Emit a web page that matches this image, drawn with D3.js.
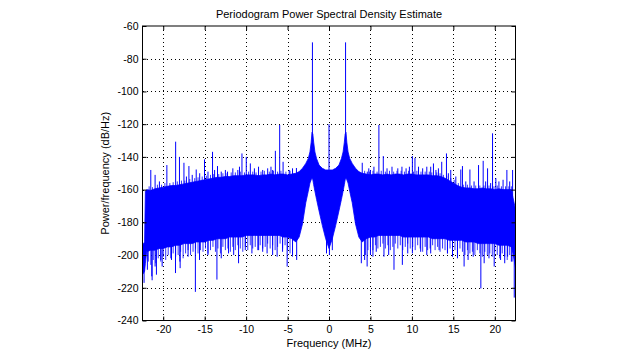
<!DOCTYPE html>
<html><head><meta charset="utf-8">
<script src="https://cdn.jsdelivr.net/npm/d3@7/dist/d3.min.js"></script>
<style>
body{margin:0;background:#fff}
svg{display:block}
text{font-family:"Liberation Sans",Arial,Helvetica,sans-serif;fill:#000}
</style>
</head><body>
<svg id="chart" width="640" height="360"></svg>
<script>
// ---------- data ----------
const titleText = "Periodogram Power Spectral Density Estimate";
const xLabelText = "Frequency (MHz)";
const yLabelText = "Power/frequency (dB/Hz)";
const xTicks = [-20, -15, -10, -5, 0, 5, 10, 15, 20];
const yTicks = [-240, -220, -200, -180, -160, -140, -120, -100, -80, -60];

// envelope of the dense noise band (MHz, dB/Hz)
const envFreq = [-22.5, -22.25, -22.15, -22.0, -21.5, -21.0, -20.5, -20.0, -19.5, -19.0, -18.5, -18.0, -17.5, -17.0, -16.5, -16.0, -15.5, -15.0, -14.5, -14.0, -13.5, -13.0, -12.5, -12.0, -11.5, -11.0, -10.5, -10.0, -9.5, -9.0, -8.5, -8.0, -7.5, -7.0, -6.5, -6.0, -5.5, -5.0, -4.5, -4.0, -3.6, -3.2, -2.8, -2.5, -2.3, -2.15, -2.05, -1.95, -1.85, -1.7, -1.5, -1.2, -0.8, -0.4, 0,
  0.4, 0.8, 1.2, 1.5, 1.7, 1.85, 1.95, 2.05, 2.15, 2.3, 2.5, 2.8, 3.2, 3.6, 4.0, 4.5, 5.0, 5.5, 6.0, 6.5, 7.0, 7.5, 8.0, 8.5, 9.0, 9.5, 10.0, 10.5, 11.0, 11.5, 12.0, 12.5, 13.0, 13.5, 14.0, 14.5, 15.0, 15.5, 16.0, 16.5, 17.0, 17.5, 18.0, 18.5, 19.0, 19.5, 20.0, 20.5, 21.0, 21.5, 22.0, 22.2, 22.5];
const envTop = [-194, -192, -161, -160, -160.5, -159.5, -159, -158.5, -158, -157.5, -157.5, -157, -156.5, -156, -155.5, -155, -154.5, -154, -153.5, -153, -152.5, -152.5, -152, -152, -151.5, -151.5, -151.5, -151, -151, -151, -151.5, -151, -151, -150.5, -151, -150.5, -150.5, -151, -150.5, -150, -149, -147, -144, -141, -137, -131, -125, -126, -131, -137, -141, -145, -147, -148, -148,
  -148, -147, -145, -141, -137, -131, -126, -125, -131, -137, -141, -144, -147, -149, -150, -150.5, -151, -150.5, -150.5, -151, -150.5, -151, -150.5, -150.5, -151, -150.5, -150.5, -151, -151, -151, -151, -151.5, -151.5, -152, -153, -154.5, -156, -157.5, -158.5, -159, -159, -159.5, -159.5, -159, -159.5, -159.5, -160, -159.5, -160, -160, -160, -165, -172];
const envBottom = [-212, -210, -205, -198, -197, -197, -196, -196, -195, -195, -194, -194, -193, -193, -193, -192, -192, -192, -191, -191, -190, -190, -190, -189, -189, -189, -189, -188, -188, -188, -188, -188, -188, -188, -188, -188, -189, -189, -190, -192, -189, -181, -168, -161, -156, -154, -153, -154, -157, -161, -166, -173, -182, -190, -196,
  -190, -182, -173, -166, -161, -157, -154, -153, -154, -156, -161, -168, -181, -189, -192, -190, -189, -189, -188, -188, -188, -188, -188, -188, -189, -189, -189, -189, -189, -189, -189, -190, -190, -190, -190, -191, -191, -191, -191, -192, -192, -192, -193, -193, -193, -193, -193, -194, -194, -194, -195, -199, -208];

// tall spikes rising above the band (MHz, dB/Hz)
const upFreq = [-2.0, 2.0, 0.0,
  -21.5, -20.98, -20.46, -19.56, -18.5, -18.04, -17.5, -16.9, -16.02, -15.02, -14.05, -13.45, -12.24, -10.5, -9.98, -9.49, -6.47, -5.95, -5.54, -3.93,
  4.01, 4.62, 5.42, 6.02, 6.55, 10.06, 10.37, 12.27, 12.6, 13.6, 14.17, 14.69, 15.9, 16.1, 17.0, 18.04, 18.6, 19.13, 19.73, 20.13, 21.46, 22.15,
  -17.2, -16.5, -15.6, -14.6, -13.8, -13.0, -12.5, -11.6, -11.0, -10.8, -9.0, -8.5, -8.0, -7.4, -7.0, -6.8, -4.8, -4.4,
  4.8, 5.0, 7.0, 7.6, 8.3, 8.8, 9.3, 9.7, 10.8, 11.3, 11.8, 12.9, 13.2, 14.4, 15.3, 16.5, 17.5, 18.9, 19.5, 20.5, 21.0, 21.8];
const upDb = [-70, -70, -120,
  -148, -151, -155, -145, -130.7, -140, -143.6, -145.6, -147.7, -141.5, -136.9, -145.6, -149, -137.9, -140, -144, -136.3, -120.5, -143, -146.8,
  -143.6, -149, -146, -120.5, -139.5, -139.5, -140.7, -146, -144, -143, -137.9, -148, -147.7, -145.6, -147.7, -145, -142.4, -147, -125.6, -153, -148, -148,
  -152, -151, -150, -149, -148, -149, -148, -147, -148, -146, -147, -146, -148, -147, -146, -148, -148, -147,
  -147, -148, -147, -146, -147, -146, -147, -146, -146, -147, -146, -148, -147, -150, -152, -155, -155, -155, -156, -155, -154, -155];

// short spikes forming the ragged top edge of the band
const fringeUpFreq = [-21.7, -21.3, -20.7, -20.2, -19.8, -19.2, -18.8, -18.3, -17.8, -17.4, -16.8, -16.2, -15.8, -15.3, -14.8, -14.3, -13.9, -13.3, -12.8, -12.3, -11.8, -11.3, -10.7, -10.2, -9.7, -9.2, -8.8, -8.2, -7.8, -7.2, -6.7, -6.2, -5.8, -5.2, -4.7,
  4.3, 4.9, 5.3, 5.8, 6.3, 6.8, 7.3, 7.8, 8.2, 8.7, 9.1, 9.6, 10.2, 10.6, 11.1, 11.6, 12.1, 12.4, 13.0, 13.4, 13.8, 14.2, 14.7, 15.1, 15.6, 16.2, 16.7, 17.2, 17.7, 18.2, 18.7, 19.3, 19.9, 20.3, 20.8, 21.3, 21.7, 22.0];
const fringeUpDb = [-158, -158.5, -157, -157, -156, -156, -155.5, -155, -154.5, -154.5, -153.5, -153, -152.5, -152, -151.5, -151, -150.5, -150.5, -150, -150, -149.5, -149.5, -149, -149.5, -149, -149, -149.5, -149, -148.5, -149, -148.5, -149, -148.5, -149, -148.5,
  -148.5, -149, -148.5, -149, -148.5, -149, -148.5, -149, -148.5, -148.5, -149, -148.5, -149, -148.5, -149, -149, -149, -149.5, -149.5, -150, -151, -151.5, -153, -154, -156, -157, -157, -157.5, -157.5, -157.5, -157.5, -157.5, -158, -157.5, -158, -158, -158, -158];

// tall spikes dropping below the band (MHz, dB/Hz)
const downFreq = [-22.31, -21.91, -21.38, -21.34, -20.98, -20.82, -20.29, -20.13, -19.0, -18.52, -17.99, -17.96, -17.0, -16.12, -15.62, -14.6, -13.52, -13.0, -12.12, -11.5, -10.91, -10.1, -9.3, -8.49, -8.0, -7.47, -6.8, -6.26, -5.6, -5.05, -4.4, -3.9,
  -0.3, 0.05, 0.4,
  3.9, 4.3, 4.6, 5.0, 5.3, 5.7, 6.63, 7.2, 7.84, 8.85, 9.5, 10.06, 11.06, 11.8, 12.27, 13.28, 14.29, 14.9, 15.5, 16.3, 16.78, 17.4, 18.32, 18.72, 19.3, 19.93, 20.7, 21.2, 21.55, 22.0, 22.35];
const downDb = [-217, -209, -213, -215.4, -207, -212, -203, -207, -203, -211, -204, -208, -201, -222.5, -203, -200, -215, -202, -199, -200, -205, -197, -199, -197, -198, -199, -200, -201, -198, -207, -200, -203,
  -199, -200, -197,
  -205, -203, -207, -200, -201, -198, -201, -200, -209, -206, -199, -199, -198, -200, -199, -197, -199, -201, -202, -207, -203, -201, -220.4, -205, -202, -207, -203, -205, -201, -204, -226];

// short spikes forming the ragged bottom edge of the band
const fringeDownFreq = [-21.8, -21.5, -21.2, -20.9, -20.6, -20.3, -20.0, -19.7, -19.4, -19.1, -18.8, -18.5, -18.2, -17.9, -17.6, -17.3, -17.0, -16.7, -16.4, -16.1, -15.8, -15.5, -15.2, -14.9, -14.6, -14.3, -14.0, -13.7, -13.4, -13.1, -12.8, -12.5, -12.2, -11.9, -11.6, -11.3, -11.0, -10.7, -10.4, -10.1, -9.8, -9.5, -9.2, -8.9, -8.6, -8.3, -8.0, -7.7, -7.4, -7.1, -6.8, -6.5, -6.2, -5.9, -5.6, -5.3, -5.0, -4.7, -4.4,
  4.4, 4.7, 5.0, 5.3, 5.6, 5.9, 6.2, 6.5, 6.8, 7.1, 7.4, 7.7, 8.0, 8.3, 8.6, 8.9, 9.2, 9.5, 9.8, 10.1, 10.4, 10.7, 11.0, 11.3, 11.6, 11.9, 12.2, 12.5, 12.8, 13.1, 13.4, 13.7, 14.0, 14.3, 14.6, 14.9, 15.2, 15.5, 15.8, 16.1, 16.4, 16.7, 17.0, 17.3, 17.6, 17.9, 18.2, 18.5, 18.8, 19.1, 19.4, 19.7, 20.0, 20.3, 20.6, 20.9, 21.2, 21.5, 21.8, 22.1];
const fringeDownDb = [-204, -206, -203, -205, -202, -204, -201, -203, -200, -202, -199, -201, -200, -198, -202, -199, -197, -200, -198, -196, -199, -197, -198, -196, -199, -197, -195, -198, -196, -199, -195, -197, -196, -198, -195, -197, -194, -196, -198, -195, -197, -194, -196, -195, -197, -194, -196, -195, -193, -196, -194, -197, -195, -193, -196, -194, -197, -199, -201,
  -200, -197, -195, -197, -194, -196, -195, -193, -196, -194, -197, -195, -193, -196, -194, -197, -195, -193, -196, -195, -197, -194, -196, -198, -195, -197, -196, -194, -197, -195, -198, -196, -197, -199, -196, -198, -197, -199, -196, -198, -200, -197, -199, -198, -200, -197, -199, -201, -198, -200, -199, -201, -198, -200, -202, -199, -201, -203, -200, -204];

// ---------- drawing ----------
const svg = d3.select("#chart");
const W = 640, H = 360;
const m = {left: 142.5, right: 515.5, top: 26, bottom: 320.5};

const x = d3.scaleLinear().domain([-22.5, 22.5]).range([m.left, m.right]);
const y = d3.scaleLinear().domain([-240, -60]).range([m.bottom, m.top]);

svg.append("rect").attr("width", W).attr("height", H).attr("fill", "#fff");

svg.append("defs").append("clipPath").attr("id", "plotclip")
  .append("rect").attr("x", m.left).attr("y", m.top)
  .attr("width", m.right - m.left).attr("height", m.bottom - m.top);

// grid
const grid = svg.append("g").attr("stroke", "#000").attr("stroke-width", 1)
  .attr("stroke-dasharray", "1,3").attr("shape-rendering", "crispEdges");
xTicks.forEach(t => grid.append("line")
  .attr("x1", Math.round(x(t)) + 0.5).attr("x2", Math.round(x(t)) + 0.5)
  .attr("y1", m.top).attr("y2", m.bottom));
yTicks.filter(t => t > -240 && t < -60).forEach(t => grid.append("line")
  .attr("y1", Math.round(y(t)) + 0.5).attr("y2", Math.round(y(t)) + 0.5)
  .attr("x1", m.left).attr("x2", m.right));

// data
const plot = svg.append("g").attr("clip-path", "url(#plotclip)");
const band = envFreq.map((f, i) => ({f, top: envTop[i], bottom: envBottom[i]}));
const area = d3.area().x(d => x(d.f)).y0(d => y(d.bottom)).y1(d => y(d.top));
plot.append("path").datum(band).attr("d", area).attr("fill", "#0000ff")
  .attr("stroke", "#0000ff").attr("stroke-width", 0.8);

const bis = d3.bisector(d => d).left;
function envMid(f) {
  let i = bis(envFreq, f);
  i = Math.max(1, Math.min(envFreq.length - 1, i));
  const f0 = envFreq[i - 1], f1 = envFreq[i];
  const t = (f - f0) / (f1 - f0);
  const top = envTop[i - 1] + t * (envTop[i] - envTop[i - 1]);
  const bot = envBottom[i - 1] + t * (envBottom[i] - envBottom[i - 1]);
  return (top + bot) / 2;
}

function drawSpikes(freqs, dbs, opacity) {
  const pts = freqs.map((f, i) => ({f, v: dbs[i]}));
  plot.append("g").selectAll("line").data(pts).join("line")
    .attr("x1", d => x(d.f)).attr("x2", d => x(d.f))
    .attr("y1", d => y(d.v)).attr("y2", d => y(envMid(d.f)))
    .attr("stroke", "#0000ff").attr("stroke-width", 1).attr("stroke-opacity", opacity);
}
drawSpikes(fringeUpFreq, fringeUpDb, 0.8);
drawSpikes(fringeDownFreq, fringeDownDb, 0.8);
drawSpikes(upFreq, upDb, 1);
drawSpikes(downFreq, downDb, 1);

// axes
const fmt = d => String(d);
const axB = svg.append("g").attr("transform", `translate(0,${m.bottom})`)
  .call(d3.axisBottom(x).tickValues(xTicks).tickFormat(fmt).tickSizeInner(-4).tickSizeOuter(0).tickPadding(5));
const axT = svg.append("g").attr("transform", `translate(0,${m.top})`)
  .call(d3.axisTop(x).tickValues(xTicks).tickFormat("").tickSizeInner(-4).tickSizeOuter(0));
const axL = svg.append("g").attr("transform", `translate(${m.left},0)`)
  .call(d3.axisLeft(y).tickValues(yTicks).tickFormat(fmt).tickSizeInner(-4).tickSizeOuter(0).tickPadding(4));
const axR = svg.append("g").attr("transform", `translate(${m.right},0)`)
  .call(d3.axisRight(y).tickValues(yTicks).tickFormat("").tickSizeInner(-4).tickSizeOuter(0));
[axB, axT, axL, axR].forEach(g => {
  g.selectAll("path.domain").remove();
  g.selectAll("line").attr("stroke", "#000");
  g.selectAll("text").attr("font-size", "10.5px").attr("font-family", '"Liberation Sans",Arial,sans-serif').attr("fill", "#000");
});
svg.append("rect").attr("x", m.left).attr("y", m.top)
  .attr("width", m.right - m.left).attr("height", m.bottom - m.top)
  .attr("fill", "none").attr("stroke", "#000").attr("stroke-width", 1);

// labels
svg.append("text").attr("x", (m.left + m.right) / 2).attr("y", 18)
  .attr("text-anchor", "middle").attr("font-size", "11px").text(titleText);
svg.append("text").attr("x", (m.left + m.right) / 2).attr("y", 347)
  .attr("text-anchor", "middle").attr("font-size", "11px").text(xLabelText);
svg.append("text").attr("transform", `translate(109,${(m.top + m.bottom) / 2}) rotate(-90)`)
  .attr("text-anchor", "middle").attr("font-size", "11px").text(yLabelText);
</script>
</body></html>
